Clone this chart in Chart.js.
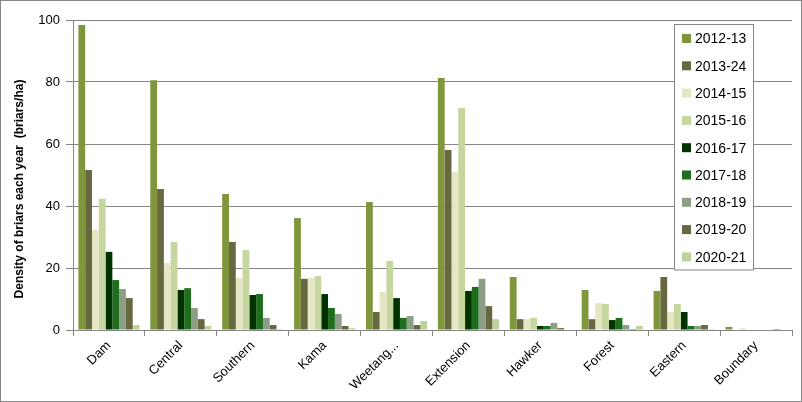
<!DOCTYPE html>
<html>
<head>
    <title>Briar density</title>
    <script src="https://cdn.jsdelivr.net/npm/chart.js"></script>
    <style>
        body { margin: 0; background: #fff; }
        canvas { display: block; }
    </style>
</head>
<body>
    <canvas id="chart" width="802" height="402"></canvas>

    <script>
        // data
        const sites = ["Dam", "Central", "Southern", "Kama", "Weetang...", "Extension", "Hawker", "Forest", "Eastern", "Boundary"];
        const years = ["2012-13", "2013-24", "2014-15", "2015-16", "2016-17", "2017-18", "2018-19", "2019-20", "2020-21"];
        const colours = ["#7F963D", "#676740", "#E6E6C5", "#C5D79E", "#003300", "#1E6E1E", "#8C9E86", "#676740", "#BDD39B"];

        const y2012 = [98.4, 80.6, 43.9, 36.1, 41.3, 81.3, 17.1, 12.9, 12.6, 1.0];
        const y2013 = [51.6, 45.5, 28.4, 16.5, 5.8, 58.1, 3.5, 3.5, 17.1, 0];
        const y2014 = [32.3, 21.6, 16.8, 16.8, 12.3, 51.0, 3.5, 8.7, 5.8, 0.6];
        const y2015 = [42.3, 28.4, 25.8, 17.4, 22.3, 71.6, 3.9, 8.4, 8.4, 0];
        const y2016 = [25.2, 12.9, 11.3, 11.6, 10.3, 12.6, 1.3, 3.2, 5.8, 0];
        const y2017 = [16.1, 13.5, 11.6, 7.1, 3.9, 13.9, 1.3, 3.9, 1.3, 0];
        const y2018 = [13.2, 7.1, 3.9, 5.2, 4.5, 16.5, 2.3, 1.6, 1.3, 0];
        const y2019 = [10.3, 3.5, 1.6, 1.3, 1.6, 7.7, 0.6, 0.3, 1.6, 0.3];
        const y2020 = [1.6, 1.3, 0.3, 0.6, 2.9, 3.5, 0, 1.3, 0.3, 0];
        const series = [y2012, y2013, y2014, y2015, y2016, y2017, y2018, y2019, y2020];

        const yTitle = "Density of briars each year  (briars/ha)";
        const gridGrey = "#868686";
        const font = "'Liberation Sans', Arial, sans-serif";

        // border, rotated y title and the legend box inside the plot
        const extras = {
            id: "extras",
            afterDraw(chart) {
                const ctx = chart.ctx;
                ctx.save();
                ctx.strokeStyle = gridGrey;
                ctx.lineWidth = 1;
                ctx.strokeRect(0.5, 0.5, 801, 401);

                ctx.translate(20, 189);
                ctx.rotate(-Math.PI / 2);
                ctx.fillStyle = "#000";
                ctx.font = "bold 12px " + font;
                ctx.textAlign = "center";
                ctx.textBaseline = "middle";
                ctx.fillText(yTitle, 0, 0);
                ctx.restore();

                ctx.save();
                ctx.fillStyle = "#fff";
                ctx.fillRect(674.5, 24.5, 79, 245.5);
                ctx.strokeStyle = gridGrey;
                ctx.strokeRect(674.5, 24.5, 79, 245.5);
                ctx.font = "14px " + font;
                ctx.textBaseline = "middle";
                years.forEach((y, i) => {
                    const cy = 38.5 + i * 27.3;
                    ctx.fillStyle = colours[i];
                    ctx.fillRect(682, cy - 4.5, 9, 9);
                    ctx.fillStyle = "#000";
                    ctx.fillText(y, 695, cy + 1);
                });
                ctx.restore();
            }
        };

        new Chart(document.getElementById("chart"), {
            type: "bar",
            data: {
                labels: sites,
                datasets: years.map((y, i) => ({
                    label: y,
                    data: series[i],
                    backgroundColor: colours[i],
                    borderWidth: 0,
                    categoryPercentage: 0.85,
                    barPercentage: 1
                }))
            },
            options: {
                responsive: false,
                animation: false,
                layout: { padding: { top: 20, right: 10, left: 0, bottom: 0 } },
                plugins: { legend: { display: false }, tooltip: { enabled: false } },
                scales: {
                    x: {
                        afterFit: (s) => { s.height = 72; },
                        grid: { offset: true, drawOnChartArea: false, color: gridGrey, tickLength: 6 },
                        border: { color: gridGrey },
                        ticks: { color: "#000", font: { size: 13, family: font }, minRotation: 45, maxRotation: 45, padding: 2 }
                    },
                    y: {
                        min: 0,
                        max: 100,
                        afterFit: (s) => { s.width = 73; },
                        grid: { color: gridGrey, tickLength: 7 },
                        border: { color: gridGrey },
                        ticks: { stepSize: 20, color: "#000", font: { size: 13, family: font }, padding: 6 }
                    }
                }
            },
            plugins: [extras]
        });
    </script>
</body>
</html>
